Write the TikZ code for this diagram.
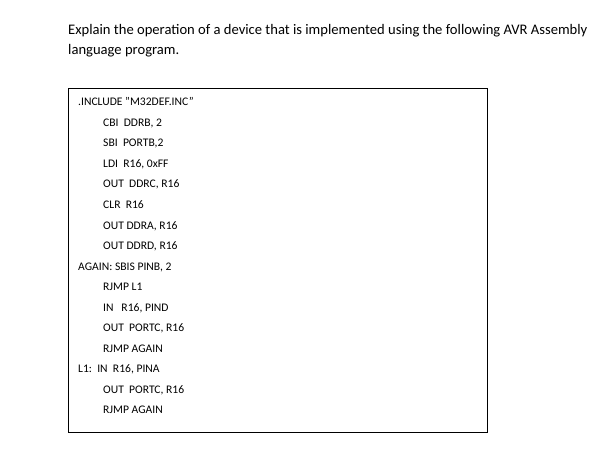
\documentclass[tikz,border=0pt]{standalone}
\usepackage{fontspec}
\setmainfont{Carlito}
\begin{document}
\begin{tikzpicture}[x=1pt,y=-1pt,
  t/.style={anchor=west,inner sep=0pt,font=\fontsize{14.6}{16}\selectfont},
  c/.style={anchor=west,inner sep=0pt,font=\fontsize{11.6}{13}\selectfont}]
\useasboundingbox (0,0) rectangle (611,471);
\node[t] (h1) at (68,31) {Explain the operation of a device that is implemented using the following AVR Assembly};
\node[t] (h2) at (68,51) {language program.};
\draw[line width=0.8pt] (68,88) rectangle (487,432);
\node[c] (l1) at (78,101) {.INCLUDE \symbol{34}M32DEF.INC\symbol{34}};
\foreach \s/\y/\x in {CBI\ \ DDRB{,} 2/123/103, SBI\ \ PORTB{,}2/143/103, LDI\ \ R16{,} 0xFF/164/103,
 OUT\ \ DDRC{,} R16/184/103, CLR\ \ R16/205/103, OUT DDRA{,} R16/226/103, OUT DDRD{,} R16/246/103,
 AGAIN: SBIS PINB{,} 2/267/78, RJMP L1/287/103, IN\ \ \ R16{,} PIND/308/103, OUT\ \ PORTC{,} R16/328/103,
 RJMP AGAIN/349/103, L1:\ \ IN\ \ R16{,} PINA/369/78, OUT\ \ PORTC{,} R16/390/103, RJMP AGAIN/410/103}
 \node[c] at (\x,\y) {\s};
\end{tikzpicture}
\end{document}
